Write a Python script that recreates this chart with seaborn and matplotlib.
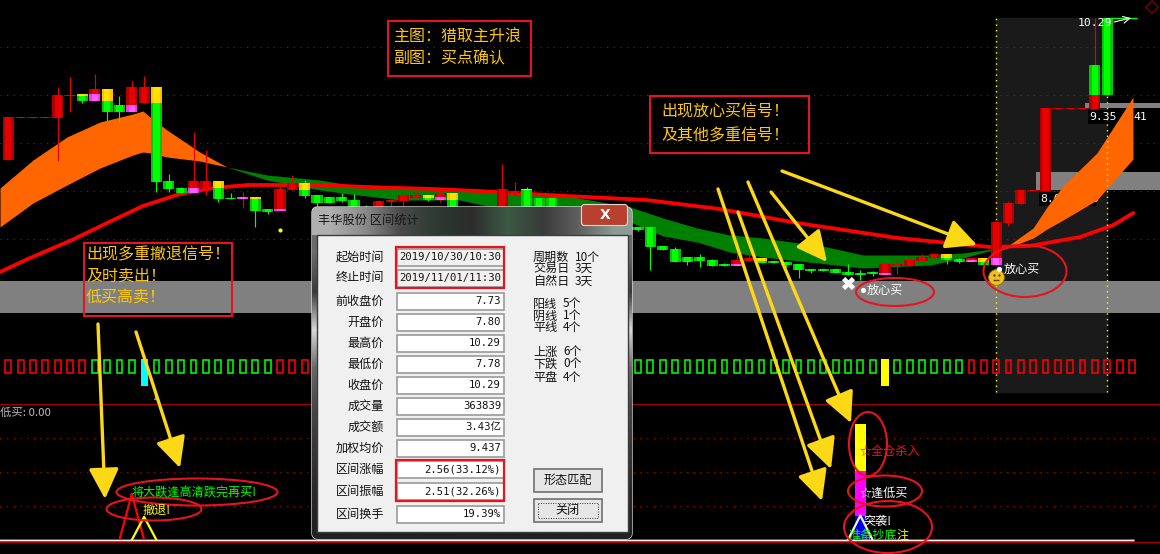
import numpy as np
import pandas as pd
import matplotlib
matplotlib.use('Agg')
import matplotlib.pyplot as plt
import seaborn as sns
from matplotlib.colors import to_rgb
from matplotlib.patches import Ellipse, FancyArrowPatch, FancyBboxPatch, Rectangle

# candles, prices stored in fen (price * 100)
candleIdx = list(range(37)) + [40, 41, 42, 43, 44] + list(range(51, 90))
bodyTop = [930, 930, 930, 930, 952, 952, 953, 958, 958, 942, 960, 960, 960, 866, 859, 866, 866, 866, 849, 850,
           850, 838, 858, 864, 864, 852, 850, 850, 847, 837, 846, 847, 852, 852, 852, 854, 854,
           858, 856, 858, 849, 849,
           820, 820, 801, 798, 790, 790, 787, 783, 787, 789, 789, 786, 785, 783, 778, 778, 778, 775, 774, 775,
           783, 783, 787, 790, 793, 793, 788, 789, 789, 825, 844, 857, 857, 939, 939, 939, 939, 982, 1029]
bodyBot = [887, 929, 929, 929, 929, 951, 946, 946, 935, 935, 935, 944, 865, 858, 854, 854, 859, 848, 848, 848,
           836, 835, 836, 857, 851, 844, 844, 846, 835, 832, 835, 845, 846, 849, 847, 847, 835,
           835, 854, 835, 835, 835,
           817, 800, 797, 785, 785, 786, 781, 781, 781, 786, 784, 784, 782, 777, 776, 776, 774, 772, 772, 773,
           772, 781, 781, 786, 789, 787, 785, 785, 782, 782, 824, 843, 856, 856, 938, 938, 938, 938, 952]
wickHigh = [930, 930, 930, 930, 960, 970, 953, 973, 958, 951, 966, 971, 960, 873, 860, 915, 897, 866, 854, 855,
            850, 838, 865, 872, 867, 852, 850, 854, 853, 842, 847, 847, 855, 855, 852, 857, 854,
            883, 865, 860, 849, 849,
            820, 820, 801, 800, 790, 793, 788, 784, 799, 797, 789, 786, 786, 783, 778, 778, 778, 783, 777, 776,
            783, 789, 789, 793, 794, 793, 789, 789, 789, 825, 846, 857, 857, 939, 939, 939, 939, 1029, 1029]
wickLow = [887, 929, 929, 929, 886, 935, 944, 946, 926, 925, 935, 944, 855, 855, 854, 854, 852, 845, 848, 839,
           820, 833, 836, 857, 849, 841, 844, 845, 835, 831, 835, 841, 841, 849, 846, 845, 835,
           835, 852, 835, 835, 835,
           816, 777, 797, 785, 782, 780, 781, 781, 781, 786, 784, 784, 780, 769, 774, 776, 774, 772, 767, 771,
           772, 773, 781, 786, 789, 783, 784, 785, 782, 782, 821, 843, 856, 856, 938, 938, 938, 938, 952]
candleColors = ['rr'] * 6 + ['yg', 'rm', 'yg', 'gg', 'rm', 'rr', 'yg', 'gg', 'gg', 'rm', 'rr', 'yg', 'gg', 'mm',
                             'yg', 'gg', 'rm', 'rr', 'yg', 'gg', 'gg', 'gg', 'gg', 'gg', 'rr', 'rr', 'rr', 'rr',
                             'yg', 'rm', 'yg',
                             'rr', 'rr', 'yg', 'gg', 'gg'] + ['gg'] * 8 + ['rm', 'rr', 'yg'] + ['gg'] * 9 + \
               ['rm', 'rr', 'rr', 'rr', 'rr', 'yg', 'gg', 'rm', 'yg', 'rm'] + ['rr'] * 7 + ['gr', 'gg']
splitAt = {6: 951, 7: 953, 8: 946, 10: 942, 12: 944, 15: 859, 17: 859, 20: 848, 22: 838, 24: 857, 34: 849, 35: 850,
           36: 847, 42: 857, 59: 783, 61: 786, 71: 774, 76: 789, 78: 787, 79: 785, 80: 789, 88: 952}

# moving average line
maIdx = [-0.67, 1.76, 5.16, 8, 10.9, 13.9, 16.6, 19.4, 25.2, 29, 34.4, 38, 45.2, 51.7, 57.6, 63.9, 72, 79.5, 82.7,
         86.8, 89.5, 91.1]
maVals = [7.75, 7.89, 8.07, 8.24, 8.41, 8.53, 8.59, 8.62, 8.62, 8.60, 8.58, 8.56, 8.51, 8.47, 8.38, 8.24, 8.09,
          8.00, 8.01, 8.10, 8.22, 8.34]

# orange / green ribbon
leftBandIdx = [-0.67, 2, 4.75, 7.43, 10.1, 10.9, 11.48, 12.85, 15.5, 17.71]
leftBandTop = [8.59, 8.87, 9.10, 9.25, 9.33, 9.36, 9.30, 9.17, 8.95, 8.80]
leftBandBot = [8.20, 8.44, 8.62, 8.79, 8.92, 8.95, 8.94, 8.90, 8.86, 8.80]
midBandIdx = [17.71, 20.95, 25.24, 27.67, 31.72, 36.58, 38.77, 45.25, 50.35, 53.02, 55.77, 58.44, 61.12, 66.30,
              69.22, 74.64, 77.32, 79.67]
midBandTop = [8.80, 8.72, 8.67, 8.62, 8.59, 8.56, 8.56, 8.51, 8.40, 8.29, 8.19, 8.12, 8.09, 8.00, 7.92, 7.92, 7.94, 7.98]
midBandBot = [8.80, 8.67, 8.57, 8.53, 8.47, 8.47, 8.41, 8.40, 8.25, 8.11, 8.05, 7.95, 7.90, 7.83, 7.79, 7.82, 7.89, 7.97]
rightBandIdx = [80.48, 83.0, 84.12, 85.42, 88.16, 91.08]
rightBandTop = [7.97, 8.19, 8.40, 8.61, 8.94, 9.50]
rightBandBot = [7.97, 8.09, 8.18, 8.27, 8.47, 8.88]

gridPrices = [10.00, 9.52, 9.04, 8.56, 8.08]
stripIdx = list(range(25)) + list(range(51, 92))
stripColors = list('rrrrrrrggggcggggggggggrrr') + ['g'] * 20 + ['y'] + ['g'] * 6 + ['r'] * 14

# lower signal panel
signalRed = ([9, 10, 11], [0, 34, 0])
signalYellow = ([10, 11, 12], [0, 17, 0])
signalWhite = ([68, 69, 70], [0, 18, 0])
stackBars = [(0, 18, '#0000e6'), (18, 51, '#ff00ff'), (51, 85, '#ffff00')]
panelGrid = [25, 50, 75]

# dialog contents
dialogLabels = ['起始时间', '终止时间', '前收盘价', '开盘价', '最高价', '最低价', '收盘价', '成交量', '成交额',
                '加权均价', '区间涨幅', '区间振幅', '区间换手']
dialogValues = ['2019/10/30/10:30', '2019/11/01/11:30', '7.73', '7.80', '10.29', '7.78', '10.29', '363839', '3.43亿',
                '9.437', '2.56(33.12%)', '2.51(32.26%)', '19.39%']
dialogRows = [257, 278, 301, 322, 343, 364, 385, 406, 427, 448, 469, 491, 514]
statLabels = ['周期数', '交易日', '自然日', '阳线', '阴线', '平线', '上涨', '下跌', '平盘']
statValues = ['10个', '3天', '3天', '5个', '1个', '4个', '6个', '0个', '4个']
statRows = [257, 268, 281, 304, 316, 328, 352, 364, 377]

colorMap = {'r': ('#b00000', '#e60000'), 'g': ('#00c800', '#00ff00'),
            'y': ('#ffc000', '#ffe000'), 'm': ('#ff30f0', '#ff60ff')}
boxRed = '#e5141e'
arrowYellow = '#fcd816'
textYellow = '#ffc800'
monoFont = ['DejaVu Sans Mono', 'Noto Sans CJK SC']

sns.set_theme(style='dark', rc={'axes.facecolor': 'black', 'figure.facecolor': 'black'})
plt.rcParams['font.family'] = ['Noto Sans CJK SC', 'DejaVu Sans']
plt.rcParams['axes.unicode_minus'] = False


def draw_main(ax):
    ax.axvspan(79.99, 89.0, ymin=(6.55 - 6.43) / 4.04, ymax=(10.29 - 6.43) / 4.04, color='#1a1a1a', zorder=1)
    for price in gridPrices:
        ax.axhline(price, color='#c00000', lw=0.8, ls=(0, (1, 5)), zorder=2)
    ax.fill_between([-1, 94], 7.34, 7.66, color='#808080', lw=0, zorder=3)
    ax.fill_between([83.2, 94], 8.57, 8.75, color='#808080', lw=0, zorder=3)
    ax.fill_between([87.2, 94], 9.39, 9.44, color='#808080', lw=0, zorder=3)

    # price tags sit under the ribbon, so they live on this axes
    for x0, x1, low, high in [(83.5, 88.2, 8.41, 8.55), (87.4, 91.9, 9.23, 9.37)]:
        ax.fill_between([x0, x1], low, high, color='black', lw=0, zorder=3.5)
    for x, y, label in [(83.6, 8.48, '8.6'), (87.7, 8.48, '0'), (87.5, 9.30, '9.35'), (91.1, 9.30, '41')]:
        ax.text(x, y, label, color='white', fontsize=8.2, va='center', zorder=3.6, family='DejaVu Sans Mono')

    ax.fill_between(leftBandIdx, leftBandBot, leftBandTop, color='#ff6600', lw=0, zorder=4)
    ax.fill_between(midBandIdx, midBandBot, midBandTop, color='#008000', lw=0, zorder=4)
    ax.fill_between(rightBandIdx, rightBandBot, rightBandTop, color='#ff6600', lw=0, zorder=4.2)
    sns.lineplot(x=maIdx, y=maVals, ax=ax, color='#ff0000', linewidth=2.7, estimator=None, sort=False, zorder=5)
    for xPos in [79.99, 89.0]:
        ax.vlines(xPos, 6.55, 10.29, color='#ffff00', lw=1, ls=(0, (1, 3)), zorder=5)

    df = pd.DataFrame({'idx': candleIdx, 'top': bodyTop, 'bot': bodyBot, 'high': wickHigh, 'low': wickLow,
                       'colors': candleColors})
    for row in df.itertuples():
        upper, lower = row.colors
        wickColor = '#e60000' if set(row.colors) & set('rm') else '#00ff00'
        ax.vlines(row.idx, row.low / 100, row.high / 100, color=wickColor, lw=0.85, zorder=6)
        split = splitAt.get(row.idx, row.bot)
        for code, hi, lo in [(upper, row.top, split), (lower, split, row.bot)]:
            if hi <= lo:
                continue
            edge, core = colorMap[code]
            ax.bar(row.idx, (hi - lo) / 100, bottom=lo / 100, width=0.9, color=edge, lw=0, zorder=6.1)
            ax.bar(row.idx, (hi - lo) / 100, bottom=lo / 100, width=0.5, color=core, lw=0, zorder=6.2)

    for idx, code in zip(stripIdx, stripColors):
        if code in 'cy':
            ax.bar(idx, 0.27, bottom=6.61, width=0.57, color='#00ffff' if code == 'c' else '#ffff00', lw=0, zorder=7)
        else:
            ax.bar(idx, 0.13, bottom=6.745, width=0.47, facecolor='none', lw=1.15, zorder=7,
                   edgecolor='#ff0000' if code == 'r' else '#00ff00')
    ax.scatter([12], [6.50], marker='^', s=14, color='#00c8ff', lw=0, zorder=7)
    ax.scatter([12], [6.53], marker='^', s=10, color='#ff2020', lw=0, zorder=7)
    ax.scatter([22], [8.17], marker='o', s=9, color='#ffff00', lw=0, zorder=7)
    ax.hlines(10.29, 89, 91.4, color='#00ff00', lw=1, zorder=7)


def draw_panel(ax):
    ax.axhline(100, color='#a00000', lw=1.0)
    ax.axhline(-1.6, color='#a00000', lw=1.0)
    for value in panelGrid:
        ax.axhline(value, color='#c00000', lw=0.8, ls=(0, (1, 5)))
    for low, high, color in stackBars:
        ax.bar(69, high - low, bottom=low, width=0.88, color=color, lw=0, zorder=3)
    for (xs, ys), color in [(signalRed, '#ff0000'), (signalYellow, '#ffff00'), (signalWhite, '#f0f0f0')]:
        sns.lineplot(x=xs, y=ys, ax=ax, color=color, linewidth=1.6, estimator=None, zorder=4)
    ax.hlines(0, -1, 91.2, color='#ff2020', lw=2.0, zorder=3.5)
    ax.hlines(0, -1, 91.2, color='#ffe8e8', lw=0.8, zorder=5)


def gradient(ax, stops, extent, horizontal, clip):
    rgb = np.array([to_rgb(c) for c in stops])
    img = rgb[np.newaxis, :, :] if horizontal else rgb[:, np.newaxis, :]
    im = ax.imshow(img, extent=extent, aspect='auto', interpolation='bilinear', zorder=10)
    im.set_clip_path(clip)


def field(ax, y, fill):
    ax.add_patch(Rectangle((396.5, y - 8.5), 107, 17, facecolor=fill, edgecolor='#9a9a9a', lw=1.2, zorder=11))


def draw_dialog(ax):
    frame = FancyBboxPatch((315, 210), 314, 326, boxstyle='round,pad=3,rounding_size=6', facecolor='#505050',
                           edgecolor='#d8d8d8', lw=1, zorder=10)
    ax.add_patch(frame)
    gradient(ax, ['#b0b0b0', '#8a8a8a', '#4a4a4a', '#2e3a32', '#2c2c2c', '#3c5a46', '#3a3a3a', '#606060', '#8c9c94'],
             (312, 632, 235, 207), True, frame)
    gradient(ax, ['#6a6a6a', '#3a3a3a', '#d8d8d8', '#686868', '#484848', '#383838', '#2c2c2c', '#222222'],
             (312, 632, 539, 235), False, frame)
    ax.add_patch(Rectangle((317, 235), 311, 297, facecolor='#f0f0f0', edgecolor='#3c3c3c', lw=1, zorder=10.5))
    ax.text(318, 220.5, '丰华股份 区间统计', color='#181818', fontsize=8.8, va='center', ha='left', zorder=11)
    ax.add_patch(FancyBboxPatch((583, 206), 43, 18, boxstyle='round,pad=1.5,rounding_size=3', facecolor='#b8402e',
                                edgecolor='#e8d8d0', lw=0.8, zorder=11))
    ax.text(605, 215, 'X', color='white', fontsize=10, fontweight='bold', ha='center', va='center', zorder=12,
            family='DejaVu Sans')

    for i, (label, value, y) in enumerate(zip(dialogLabels, dialogValues, dialogRows)):
        field(ax, y, '#f0f0f0' if i < 2 else 'white')
        ax.text(384, y, label, color='#111111', fontsize=8.7, ha='right', va='center', zorder=12)
        ax.text(501, y, value, color='#111111', fontsize=7.6, ha='right', va='center', zorder=12, family=monoFont)
    for y0, y1 in [(247, 288), (460, 501)]:
        ax.add_patch(Rectangle((396, y0), 108, y1 - y0, facecolor='none', edgecolor=boxRed, lw=1.6, zorder=12))

    for label, value, y in zip(statLabels, statValues, statRows):
        ax.text(533, y, label, color='#111111', fontsize=8.7, va='center', zorder=12)
        ax.text(575 if len(label) == 3 else 563, y, value, color='#111111', fontsize=8.5, va='center', zorder=12)

    for y0, label in [(469, '形态匹配'), (499, '关闭')]:
        ax.add_patch(Rectangle((534, y0), 68, 23, facecolor='#e6e6e6', edgecolor='#707070', lw=1.2, zorder=11))
        ax.text(568, y0 + 11.5, label, color='#111111', fontsize=8.7, ha='center', va='center', zorder=12)
    ax.add_patch(Rectangle((538, 503), 60, 15, facecolor='none', edgecolor='#333333', lw=0.7, ls=(0, (1, 1.5)), zorder=12))


def draw_notes(ax):
    for x, y, w, h in [(388, 21, 143, 55), (650, 96, 159, 57), (84, 243, 148, 73)]:
        ax.add_patch(Rectangle((x, y), w, h, facecolor='none', edgecolor=boxRed, lw=1.5, zorder=8))
    for x, y, label in [(393, 37, '主图：猎取主升浪'), (393, 59, '副图：买点确认'),
                        (661, 112, '出现放心买信号！'), (661, 136, '及其他多重信号！'),
                        (86, 255, '出现多重撤退信号！'), (86, 276, '及时卖出！'), (86, 297, '低买高卖！')]:
        ax.text(x, y, label, color=textYellow, fontsize=11.5, va='center', zorder=8)

    for x, y, w, h in [(895, 292, 78, 28), (1025, 271, 83, 52), (197, 492, 161, 27), (154, 509, 95, 23),
                       (868, 444, 38, 64), (885, 491, 74, 31), (888, 527, 88, 52)]:
        ax.add_patch(Ellipse((x, y), w, h, facecolor='none', edgecolor=boxRed, lw=1.5, zorder=8))

    for tail, tip in [((98, 324), (105, 499)), ((136, 332), (180, 468)), ((782, 171), (977, 245)),
                      ((771, 192), (827, 262)), ((748, 182), (851, 423)), ((738, 212), (831, 469)),
                      ((718, 189), (822, 501))]:
        ax.add_patch(FancyArrowPatch(tail, tip, arrowstyle='-|>,head_length=0.85,head_width=0.42', mutation_scale=22,
                                     color=arrowYellow, lw=2.4, shrinkA=0, shrinkB=0, zorder=9))

    for x, y, label, color in [(867, 290, '放心买', 'white'), (1004, 269, '放心买', 'white'),
                               (132, 492, '将大跌逢高清跌完再买!', '#00ff00'), (143, 510, '撤退!', '#ffff00'),
                               (860, 452, '☆全仓杀入', '#ff1010'), (860, 493, '☆逢低买', 'white'),
                               (863, 521, '突袭!', 'white'), (848, 535, '准备抄底', '#00ff00'), (896, 535, '注', '#ffff00')]:
        ax.text(x, y, label, color=color, fontsize=8.7, va='center', zorder=9.5)
    ax.text(0, 413, '低买: 0.00', color='#b8b8b8', fontsize=8.2, va='center', zorder=9.5)
    ax.scatter([863, 999], [290, 269], marker='o', s=14, color='white', lw=0, zorder=9.5)

    ax.scatter([848], [283], marker='X', s=90, color='white', lw=0, zorder=8)
    ax.scatter([996], [277], marker='o', s=130, color='#f0c020', edgecolor='#807010', lw=0.6, zorder=8)
    ax.scatter([993.5, 998.5], [275, 275], marker='o', s=3, color='#604000', lw=0, zorder=8.5)
    ax.scatter([996], [280], marker='_', s=14, color='#604000', lw=1, zorder=8.5)
    ax.scatter([1152], [7], marker='D', s=40, facecolor='none', edgecolor='#8a0000', lw=0.9, zorder=8)

    ax.text(1078, 23, '10.29', color='white', fontsize=8.2, va='center', zorder=9, family='DejaVu Sans Mono')
    ax.annotate('', xy=(1131, 18), xytext=(1114, 22), zorder=9,
                arrowprops=dict(arrowstyle='->', color='white', lw=0.8, shrinkA=0, shrinkB=0))


fig = plt.figure(figsize=(11.6, 5.54), dpi=100)
axMain = fig.add_axes([0, 150 / 554, 1, 404 / 554])
axPanel = fig.add_axes([0, 0, 1, 150 / 554])
axNote = fig.add_axes([0, 0, 1, 1])
axNote.patch.set_alpha(0)

draw_main(axMain)
axMain.set_xlim(-0.672, 93.27)
axMain.set_ylim(6.43, 10.47)
draw_panel(axPanel)
axPanel.set_xlim(-0.672, 93.27)
axPanel.set_ylim(-10.3, 100)
draw_notes(axNote)
draw_dialog(axNote)
axNote.set_xlim(0, 1160)
axNote.set_ylim(554, 0)
for ax in [axMain, axPanel, axNote]:
    ax.axis('off')

fig.savefig('out.png', dpi=100, facecolor='black')
